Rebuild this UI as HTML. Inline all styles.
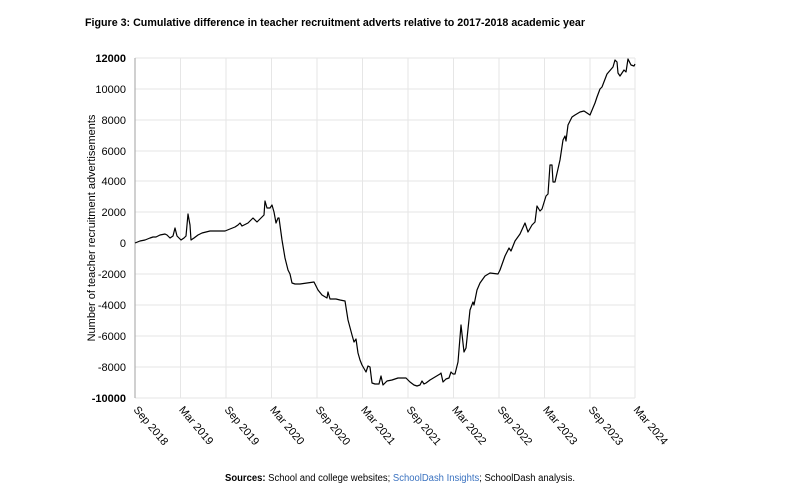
<!DOCTYPE html>
<html><head><meta charset="utf-8"><style>
body{margin:0;background:#fff;}
svg{display:block;font-family:"Liberation Sans",sans-serif;}
</style></head><body>
<svg width="800" height="500" viewBox="0 0 800 500" xmlns="http://www.w3.org/2000/svg">
<rect width="800" height="500" fill="#fff"/>
<text x="85" y="26" font-size="11" font-weight="bold" fill="#000" textLength="500" lengthAdjust="spacingAndGlyphs">Figure 3: Cumulative difference in teacher recruitment adverts relative to 2017-2018 academic year</text>
<g stroke="#e6e6e6" stroke-width="1">
<line x1="135" y1="58" x2="635" y2="58"/><line x1="135" y1="89" x2="635" y2="89"/><line x1="135" y1="120" x2="635" y2="120"/><line x1="135" y1="151" x2="635" y2="151"/><line x1="135" y1="181" x2="635" y2="181"/><line x1="135" y1="212" x2="635" y2="212"/><line x1="135" y1="243" x2="635" y2="243"/><line x1="135" y1="274" x2="635" y2="274"/><line x1="135" y1="305" x2="635" y2="305"/><line x1="135" y1="336" x2="635" y2="336"/><line x1="135" y1="367" x2="635" y2="367"/><line x1="135" y1="398" x2="635" y2="398"/>
<line x1="180.5" y1="58" x2="180.5" y2="398"/><line x1="226" y1="58" x2="226" y2="398"/><line x1="271.5" y1="58" x2="271.5" y2="398"/><line x1="317" y1="58" x2="317" y2="398"/><line x1="362.5" y1="58" x2="362.5" y2="398"/><line x1="408" y1="58" x2="408" y2="398"/><line x1="453.5" y1="58" x2="453.5" y2="398"/><line x1="499" y1="58" x2="499" y2="398"/><line x1="544.5" y1="58" x2="544.5" y2="398"/><line x1="590" y1="58" x2="590" y2="398"/><line x1="635" y1="58" x2="635" y2="398"/>
</g>
<line x1="135" y1="58" x2="135" y2="398" stroke="#b0b0b0" stroke-width="1.2"/>
<g font-size="11" fill="#000" text-anchor="end">
<text x="126" y="62" font-weight="bold">12000</text><text x="126" y="93">10000</text><text x="126" y="124">8000</text><text x="126" y="155">6000</text><text x="126" y="185">4000</text><text x="126" y="216">2000</text><text x="126" y="247">0</text><text x="126" y="278">-2000</text><text x="126" y="309">-4000</text><text x="126" y="340">-6000</text><text x="126" y="371">-8000</text><text x="126" y="402" font-weight="bold">-10000</text>
</g>
<text transform="translate(95,228) rotate(-90)" font-size="11" text-anchor="middle" fill="#000">Number of teacher recruitment advertisements</text>
<g font-size="11" fill="#000">
<text transform="translate(133,410) rotate(50)">Sep 2018</text>
<text transform="translate(178.5,410) rotate(50)">Mar 2019</text>
<text transform="translate(224,410) rotate(50)">Sep 2019</text>
<text transform="translate(269.5,410) rotate(50)">Mar 2020</text>
<text transform="translate(315,410) rotate(50)">Sep 2020</text>
<text transform="translate(360.5,410) rotate(50)">Mar 2021</text>
<text transform="translate(406,410) rotate(50)">Sep 2021</text>
<text transform="translate(451.5,410) rotate(50)">Mar 2022</text>
<text transform="translate(497,410) rotate(50)">Sep 2022</text>
<text transform="translate(542.5,410) rotate(50)">Mar 2023</text>
<text transform="translate(588,410) rotate(50)">Sep 2023</text>
<text transform="translate(633,410) rotate(50)">Mar 2024</text>
</g>
<polyline fill="none" stroke="#000" stroke-width="1.2" stroke-linejoin="round" points="135,243 140,241 145,240 150,238 153,237 156,237 160,235 165,234 167,235 170,238 173,236 175,228 177,236 179,238 181,240 184,238 186,236 188,214 190,225 191,240 194,238 198,235 202,233 206,232 210,231 218,231 225,231 230,229 235,227 238,225 240,223 242,226 248,223 253,218 257,222 260,219 264,215 265,201 267,208 270,208 272,205 274,212 276,223 278,218 279,218 282,240 285,258 288,270 290,274 292,283 295,284 300,284 314,282 318,290 322,295 327,298 328,292 330,299 333,299 336,299 340,300 345,301 348,320 352,335 354,342 356,339 358,353 360,360 362,365 366,372 368,366 370,367 372,383 375,384 379,384 381,376 383,385 387,381 392,380 398,378 403,378 406,378 410,382 414,385 417,386 420,385 422,381 424,384 426,383 430,380 435,377 440,374 441,373 443,382 446,379 449,378 451,372 453,374 455,374 458,362 461,325 464,352 466,348 470,310 473,302 474,305 477,290 480,283 485,276 490,273 498,274 500,270 505,256 509,248 511,251 515,241 520,234 525,223 528,232 532,225 535,222 537,206 540,211 542,209 546,196 548,194 550,165 552,165 553,182 555,182 560,160 563,140 565,136 566,141 568,125 572,117 575,115 580,112 584,111 590,115 595,103 597,97 600,89 602,87 607,74 613,67 615,60 617,62 618,73 620,76 624,70 626,72 628,59 631,65 634,66 635,64"/>
<text x="400" y="481" font-size="10" text-anchor="middle" fill="#000" textLength="350" lengthAdjust="spacingAndGlyphs"><tspan font-weight="bold">Sources:</tspan> School and college websites; <tspan fill="#3a72c0">SchoolDash Insights</tspan>; SchoolDash analysis.</text>
</svg>
</body></html>
